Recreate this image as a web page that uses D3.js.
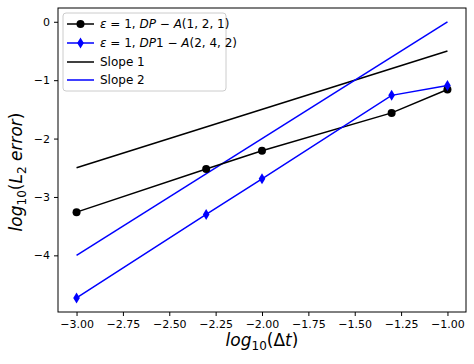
<!DOCTYPE html>
<html><head><meta charset="utf-8">
<script src="https://cdn.jsdelivr.net/npm/d3@7"></script>
<style>body{margin:0;background:#fff}svg{display:block;font-family:"DejaVu Sans",sans-serif}</style>
</head><body><svg id="c" width="474" height="364"></svg>
<script>
const logDt = [-3, -2.30103, -2, -1.30103, -1];
const errDP = [-3.26, -2.52, -2.21, -1.56, -1.16];
const errDP1 = [-4.73, -3.30, -2.69, -1.26, -1.09];
const slope1 = [[-3, -2.5], [-1, -0.5]];
const slope2 = [[-3, -4], [-1, 0]];
const xTicks = [-3.0, -2.75, -2.5, -2.25, -2.0, -1.75, -1.5, -1.25, -1.0];
const yTicks = [0, -1, -2, -3, -4];

const svg = d3.select("#c");
const L = 58, R = 466, T = 8, B = 312;
const x = d3.scaleLinear().domain([-3.1, -0.9]).range([L, R]);
const y = d3.scaleLinear().domain([-4.97, 0.236]).range([B, T]);

const xa = svg.append("g").attr("transform", `translate(0,${B})`)
  .call(d3.axisBottom(x).tickValues(xTicks).tickFormat(d3.format(".2f")).tickSize(4).tickPadding(4));
const ya = svg.append("g").attr("transform", `translate(${L},0)`)
  .call(d3.axisLeft(y).tickValues(yTicks).tickFormat(d => d3.format("d")(d).replace("-", "\u2212")).tickSize(4).tickPadding(4));
xa.selectAll("text").text(d => d3.format(".2f")(d).replace("-", "\u2212"));
[xa, ya].forEach(a => {
  a.select(".domain").remove();
  a.selectAll("text").attr("font-size", 11).attr("fill", "#000").attr("font-family", "DejaVu Sans");
  a.selectAll("line").attr("stroke", "#000");
});

const line = d3.line().x(d => x(d[0])).y(d => y(d[1]));
svg.append("path").attr("d", line(slope1)).attr("stroke", "#000").attr("stroke-width", 1.5).attr("fill", "none");
svg.append("path").attr("d", line(slope2)).attr("stroke", "#0000ff").attr("stroke-width", 1.5).attr("fill", "none");
const dp = logDt.map((v, i) => [v, errDP[i]]);
const dp1 = logDt.map((v, i) => [v, errDP1[i]]);
svg.append("path").attr("d", line(dp)).attr("stroke", "#000").attr("stroke-width", 1.5).attr("fill", "none");
svg.append("path").attr("d", line(dp1)).attr("stroke", "#0000ff").attr("stroke-width", 1.5).attr("fill", "none");
const diamond = "M0,-5.5L3.3,0L0,5.5L-3.3,0Z";
svg.selectAll(".c1").data(dp).enter().append("circle")
  .attr("cx", d => x(d[0])).attr("cy", d => y(d[1])).attr("r", 4).attr("fill", "#000");
svg.selectAll(".d1").data(dp1).enter().append("path").attr("d", diamond)
  .attr("transform", d => `translate(${x(d[0])},${y(d[1])})`).attr("fill", "#0000ff");

svg.append("rect").attr("x", L).attr("y", T).attr("width", R - L).attr("height", B - T)
  .attr("fill", "none").attr("stroke", "#000").attr("stroke-width", 1);

// legend
const lg = svg.append("g");
lg.append("rect").attr("x", 63).attr("y", 13).attr("width", 163).attr("height", 78).attr("rx", 3)
  .attr("fill", "#fff").attr("fill-opacity", 0.8).attr("stroke", "#ccc");
const entries = [
  {c: "#000", m: "o", label: [["ε", 1], [" = 1, ", 0], ["DP", 1], [" − ", 0], ["A", 1], ["(1, 2, 1)", 0]]},
  {c: "#0000ff", m: "d", label: [["ε", 1], [" = 1, ", 0], ["DP", 1], ["1 − ", 0], ["A", 1], ["(2, 4, 2)", 0]]},
  {c: "#000", m: null, label: [["Slope 1", 0]]},
  {c: "#0000ff", m: null, label: [["Slope 2", 0]]}
];
const ey = [24, 43, 62, 80];
entries.forEach((e, i) => {
  const yy = ey[i];
  lg.append("line").attr("x1", 67).attr("x2", 94).attr("y1", yy).attr("y2", yy).attr("stroke", e.c).attr("stroke-width", 1.5);
  if (e.m === "o") lg.append("circle").attr("cx", 80.5).attr("cy", yy).attr("r", 4).attr("fill", e.c);
  if (e.m === "d") lg.append("path").attr("d", diamond).attr("transform", `translate(80.5,${yy})`).attr("fill", e.c);
  const t = lg.append("text").attr("x", 100).attr("y", yy + 4).attr("font-size", 12).attr("fill", "#000");
  e.label.forEach(p => t.append("tspan").text(p[0]).attr("font-style", p[1] ? "italic" : "normal"));
});

// axis labels
const xl = svg.append("text").attr("x", (L + R) / 2).attr("y", 346).attr("text-anchor", "middle").attr("font-size", 17);
xl.append("tspan").text("log").attr("font-style", "italic");
xl.append("tspan").text("10").attr("font-size", 12).attr("dy", 4);
xl.append("tspan").text("(Δ").attr("dy", -4);
xl.append("tspan").text("t").attr("font-style", "italic");
xl.append("tspan").text(")");
const yl = svg.append("text").attr("transform", `translate(22,${(T + B) / 2 + 12}) rotate(-90)`).attr("text-anchor", "middle").attr("font-size", 17);
yl.append("tspan").text("log").attr("font-style", "italic");
yl.append("tspan").text("10").attr("font-size", 12).attr("dy", 4);
yl.append("tspan").text("(").attr("dy", -4);
yl.append("tspan").text("L").attr("font-style", "italic");
yl.append("tspan").text("2").attr("font-size", 12).attr("dy", 4);
yl.append("tspan").text(" error").attr("font-style", "italic").attr("dy", -4);
yl.append("tspan").text(")");
</script></body></html>
